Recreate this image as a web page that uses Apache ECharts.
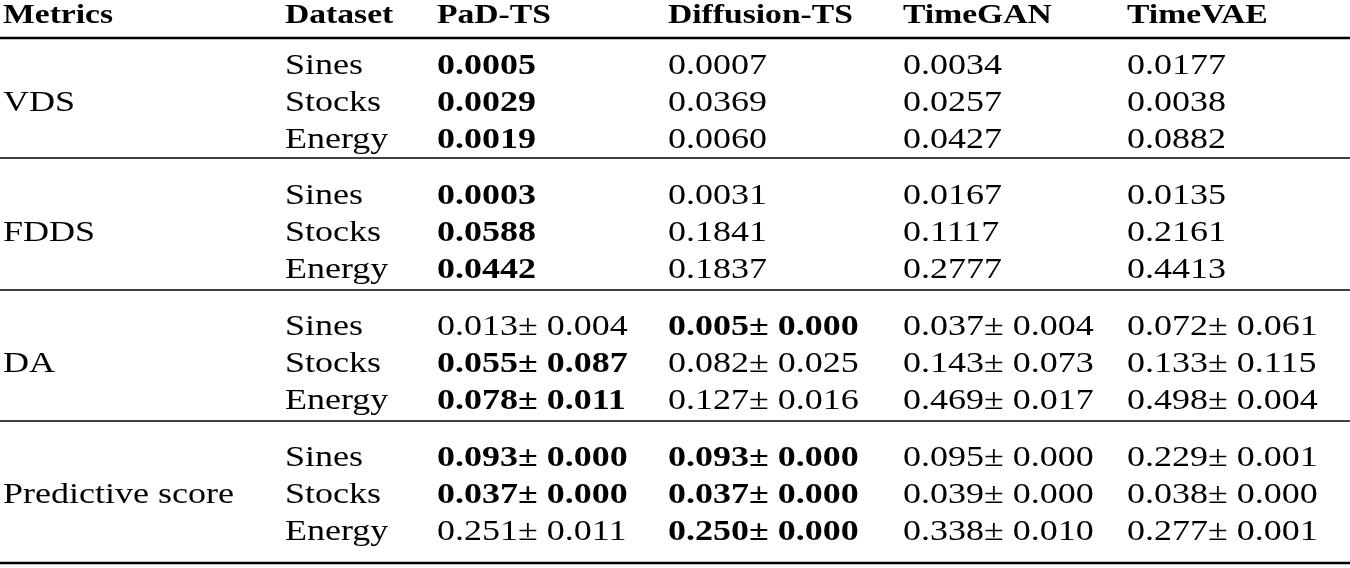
<!DOCTYPE html>
<html><head><meta charset="utf-8">
<script src="https://cdn.jsdelivr.net/npm/echarts@6/dist/echarts.min.js"></script>
<style>html,body{margin:0;padding:0;background:#fff}#c{width:1350px;height:568px}</style>
</head><body><div id="c"></div>
<script>
const headers = ["Metrics","Dataset","PaD-TS","Diffusion-TS","TimeGAN","TimeVAE"];
const metrics = ["VDS","FDDS","DA","Predictive score"];
const datasets = ["Sines","Stocks","Energy"];
const values = [
 [["0.0005","0.0007","0.0034","0.0177"],["0.0029","0.0369","0.0257","0.0038"],["0.0019","0.0060","0.0427","0.0882"]],
 [["0.0003","0.0031","0.0167","0.0135"],["0.0588","0.1841","0.1117","0.2161"],["0.0442","0.1837","0.2777","0.4413"]],
 [["0.013± 0.004","0.005± 0.000","0.037± 0.004","0.072± 0.061"],["0.055± 0.087","0.082± 0.025","0.143± 0.073","0.133± 0.115"],["0.078± 0.011","0.127± 0.016","0.469± 0.017","0.498± 0.004"]],
 [["0.093± 0.000","0.093± 0.000","0.095± 0.000","0.229± 0.001"],["0.037± 0.000","0.037± 0.000","0.039± 0.000","0.038± 0.000"],["0.251± 0.011","0.250± 0.000","0.338± 0.010","0.277± 0.001"]]
];
const bold = [
 [[1,0,0,0],[1,0,0,0],[1,0,0,0]],
 [[1,0,0,0],[1,0,0,0],[1,0,0,0]],
 [[0,1,0,0],[1,0,0,0],[1,0,0,0]],
 [[1,1,0,0],[1,1,0,0],[0,1,0,0]]
];
const colX = [3,285,437,668,903,1127];
const headerY = 16;
const groupTop = [48,178,309,440];
const rowH = 37;
const rules = [[38,2.5],[158,1.3],[290,1.3],[421,1.3],[563,2.5]];
const FONT = '"Liberation Serif","DejaVu Serif",serif';
const els = [];
function txt(x,y,s,b,size){
  els.push({type:'text',x:x,y:y,scaleX:1.2,originX:0,originY:0,
    style:{text:s,fill:'#000',font:(b?'bold ':'')+(size||30)+'px '+FONT,textVerticalAlign:'middle',textAlign:'left'}});
}
headers.forEach((h,i)=>txt(colX[i],headerY,h,true,28));
rules.forEach(r=>els.push({type:'line',shape:{x1:0,y1:r[0],x2:1350,y2:r[0]},style:{stroke:'#000',lineWidth:r[1]}}));
metrics.forEach((m,g)=>{
  const y0 = groupTop[g]+rowH/2;
  txt(colX[0],y0+rowH,m,false);
  datasets.forEach((d,r)=>{
    const y = y0+r*rowH;
    txt(colX[1],y,d,false);
    values[g][r].forEach((v,c)=>txt(colX[c+2],y,v,bold[g][r][c]));
  });
});
const chart = echarts.init(document.getElementById('c'));
chart.setOption({animation:false,graphic:{elements:els}});
</script></body></html>
